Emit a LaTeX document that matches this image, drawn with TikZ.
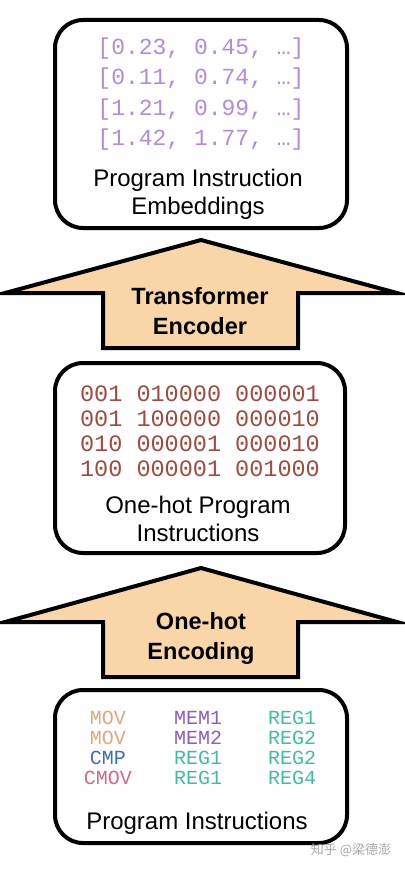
\documentclass[tikz,border=0pt]{standalone}
\usepackage{fontspec}
\newfontfamily\helv{Liberation Sans}
\newfontfamily\cour{Liberation Mono}
\newfontfamily\cjk{Noto Sans CJK SC}
\definecolor{lav}{HTML}{B28BDB}
\definecolor{bin}{HTML}{A34A3C}
\definecolor{movc}{HTML}{E6A57E}
\definecolor{cmpc}{HTML}{3B6EC0}
\definecolor{cmovc}{HTML}{D9677F}
\definecolor{memc}{HTML}{8C5CCB}
\definecolor{regc}{HTML}{3DBFA6}
\definecolor{peach}{HTML}{F8D6A8}
\tikzset{
  box/.style={draw=black, line width=4pt, rounded corners=28pt, fill=white, inner sep=0pt},
  bigarrow/.style={draw=black, line width=4pt, fill=peach, line join=miter},
  lbl/.style={font=\helv\fontsize{24}{28}\selectfont, align=center, inner sep=0pt},
  albl/.style={font=\helv\bfseries\fontsize{23.5}{30}\selectfont, align=center, inner sep=0pt},
  emb/.style={font=\cour\fontsize{23}{30.3}\selectfont, text=lav, align=center, inner sep=0pt},
  onehot/.style={font=\cour\fontsize{23.5}{25}\selectfont, text=bin, align=center, inner sep=0pt},
  ins/.style={font=\cour\fontsize{20}{20}\selectfont, inner sep=0pt},
}
\begin{document}
\begin{tikzpicture}[x=1pt,y=-1pt]
\useasboundingbox (0,0) rectangle (404,869);
% top box
\node[box, minimum width=292pt, minimum height=208pt] (embbox) at (201,124) {};
\node[emb] (emb) at (201,94) {[0.23, 0.45, …]\\{}[0.11, 0.74, …]\\{}[1.21, 0.99, …]\\{}[1.42, 1.77, …]};
\node[lbl] (embl) at (198,194) {Program Instruction\\Embeddings};
% transformer arrow
\draw[bigarrow] (201,240) -- (397,293) -- (298,293) -- (298,348) -- (103,348) -- (103,293) -- (5,293) -- cycle;
\node[albl] (trans) at (200,311) {Transformer\\Encoder};
% middle box
\node[box, minimum width=290pt, minimum height=190pt] (ohbox) at (200,458) {};
\node[onehot] (oh) at (200,431) {001 010000 000001\\001 100000 000010\\010 000001 000010\\100 000001 001000};
\node[lbl] (ohl) at (198,519) {One-hot Program\\Instructions};
% one-hot arrow
\draw[bigarrow] (201,568) -- (397,622) -- (298,622) -- (298,677) -- (103,677) -- (103,622) -- (5,622) -- cycle;
\node[albl] (enc) at (201,638) {One-hot\\Encoding};
% bottom box
\node[box, minimum width=292pt, minimum height=153pt] (insbox) at (201,766.5) {};
\node[ins, align=center] (ops) at (108,748) {\textcolor{movc}{MOV}\\\textcolor{movc}{MOV}\\\textcolor{cmpc}{CMP}\\\textcolor{cmovc}{CMOV}};
\node[ins, align=left, anchor=west] (args1) at (174,748) {\textcolor{memc}{MEM1}\\\textcolor{memc}{MEM2}\\\textcolor{regc}{REG1}\\\textcolor{regc}{REG1}};
\node[ins, align=left, anchor=west, text=regc] (args2) at (268,748) {REG1\\REG2\\REG2\\REG4};
\node[lbl] (insl) at (197,823) {Program Instructions};
% watermark
\node[font=\cjk\fontsize{13}{15}\selectfont, text=black!35, inner sep=0pt] (wm) at (351,850) {知乎 @梁德澎};
\end{tikzpicture}
\end{document}
